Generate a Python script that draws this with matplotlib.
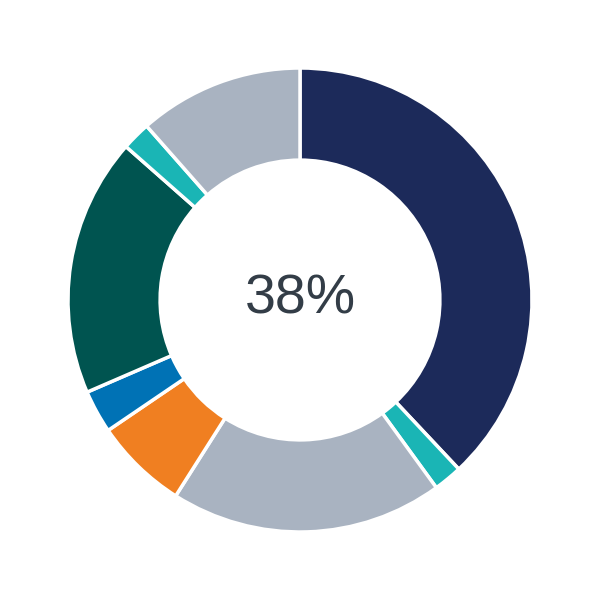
import matplotlib
matplotlib.use("Agg")
from matplotlib import pyplot as plt

# slice shares, clockwise from 12 o'clock
shares = [38, 2, 19, 6.5, 3, 18, 2, 11.5]
colors = ['#1c2a5a', '#1ab5b5', '#a9b3c1', '#f07f21',
          '#0072b5', '#005450', '#1ab5b5', '#a9b3c1']
center_label = '38%'

fig = plt.figure(figsize=(6, 6), dpi=100)
ax = fig.add_axes([0, 0, 1, 1])

ax.pie(shares, colors=colors, startangle=90, counterclock=False,
       radius=1.0,
       wedgeprops=dict(width=0.397, edgecolor='white', linewidth=2.5))

ax.text(0, 0, center_label, ha='center', va='center',
        fontsize=40, color='#333d47', family='Liberation Sans')

lim = 300 / 232
ax.set_xlim(-lim, lim)
ax.set_ylim(-lim, lim)
ax.set_aspect('equal')
ax.axis('off')

fig.savefig('out.png', dpi=100, facecolor='white')
